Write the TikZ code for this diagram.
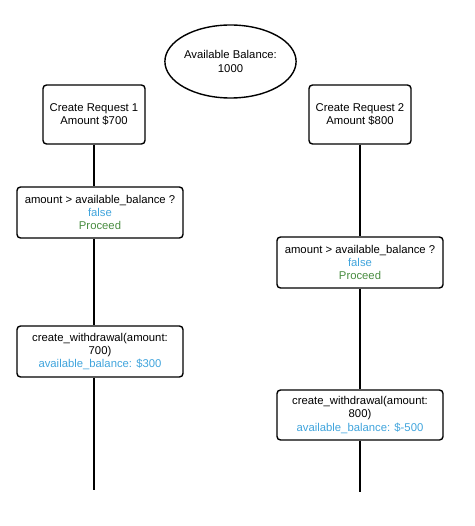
\documentclass[tikz,border=0pt]{standalone}
\usepackage{fontspec}
\setmainfont{Liberation Sans}
\usetikzlibrary{shapes.geometric}

\definecolor{valblue}{RGB}{64,164,220}
\definecolor{okgreen}{RGB}{72,140,64}

\tikzset{
    txt/.style = {font=\fontsize{11.3}{13.4}\selectfont, align=center, inner sep=0pt},
    reqbox/.style = {txt, draw, line width=1.4pt, rounded corners=3.5pt, minimum width=102pt, minimum height=59pt},
    opbox/.style = {txt, draw, line width=1.4pt, rounded corners=3.5pt, minimum width=166pt, minimum height=51pt},
    flow/.style = {line width=1.4pt},
}

\begin{document}
\begin{tikzpicture}[x=1pt, y=1pt]
            \useasboundingbox (0,0) rectangle (474,-526);

            \node[txt, draw, ellipse, line width=1.4pt, minimum width=125pt, minimum height=73pt] (bal) at (230.5,-61.5) {Available Balance:\\1000};

            \node[reqbox] (req1) at (94,-114.5) {Create Request 1\\Amount \$700};
            \node[reqbox] (req2) at (360,-114.5) {Create Request 2\\Amount \$800};

            \node[opbox] (chk1) at (100,-212.5) {amount > available\_balance ?\\\textcolor{valblue}{false}\\\textcolor{okgreen}{Proceed}};
            \node[opbox] (chk2) at (360,-262.5) {amount > available\_balance ?\\\textcolor{valblue}{false}\\\textcolor{okgreen}{Proceed}};

            \node[opbox] (wd1) at (100,-351.5) {create\_withdrawal(amount:\\700)\\\textcolor{valblue}{available\_balance: \$300}};
            \node[opbox, minimum height=50pt] (wd2) at (360,-415) {create\_withdrawal(amount:\\800)\\\textcolor{valblue}{available\_balance: \$-500}};

            \coordinate (end1) at (94,-490);
            \coordinate (end2) at (360,-492);

            \draw[flow] (req1.south) -- (req1.south |- chk1.north);
            \draw[flow] (req1.south |- chk1.south) -- (req1.south |- wd1.north);
            \draw[flow] (req1.south |- wd1.south) -- (end1);

            \draw[flow] (req2.south) -- (chk2.north);
            \draw[flow] (chk2.south) -- (wd2.north);
            \draw[flow] (wd2.south) -- (end2);
        \end{tikzpicture}
\end{document}
